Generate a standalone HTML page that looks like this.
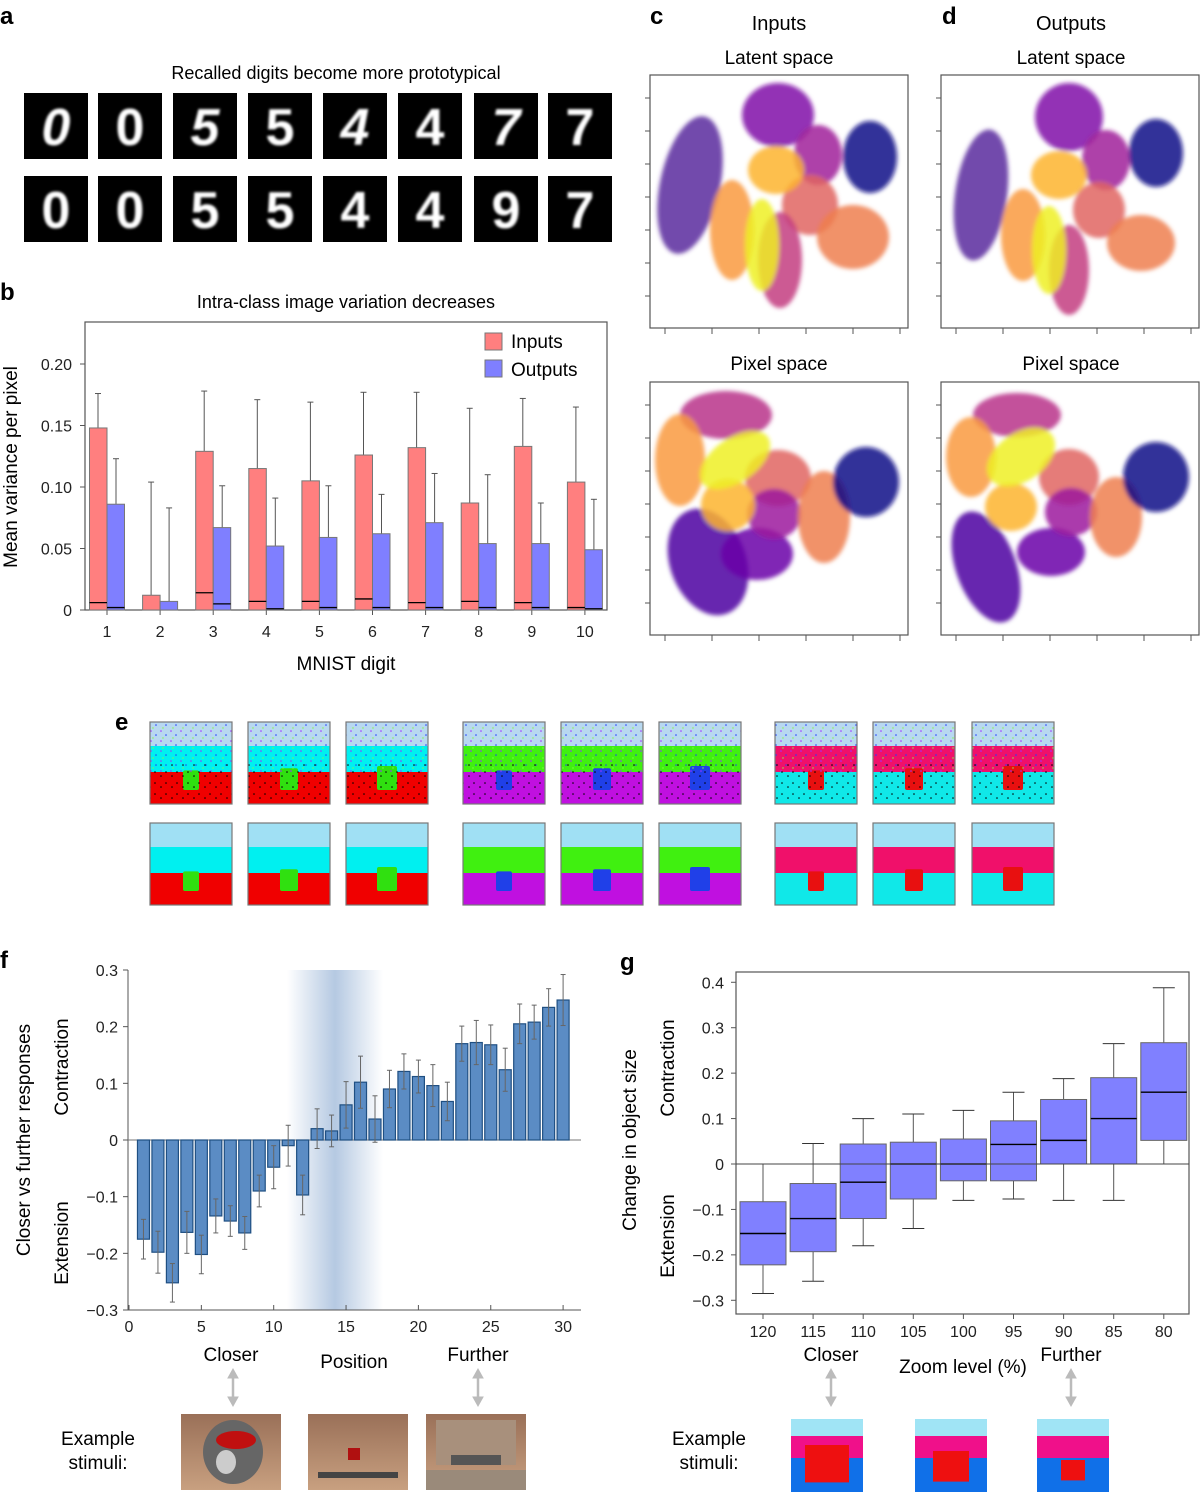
<!DOCTYPE html>
<html><head><meta charset="utf-8">
<style>
html,body{margin:0;padding:0;background:#fff;}
svg{display:block;font-family:"Liberation Sans",sans-serif;}
</style></head>
<body>
<svg id="fig" width="1200" height="1492" viewBox="0 0 1200 1492" xmlns="http://www.w3.org/2000/svg">
<defs>
<filter id="blur1" x="-10%" y="-10%" width="120%" height="120%"><feGaussianBlur stdDeviation="1.2"/></filter>
<filter id="blur3" x="-20%" y="-20%" width="140%" height="140%"><feGaussianBlur stdDeviation="2"/></filter>
<pattern id="noise" width="11" height="11" patternUnits="userSpaceOnUse">
<circle cx="1" cy="2" r="0.8" fill="#000"/><circle cx="7" cy="6" r="0.8" fill="#000"/>
</pattern>
<pattern id="noise2" width="10" height="10" patternUnits="userSpaceOnUse">
<circle cx="1" cy="1" r="0.8" fill="#a030ff"/><circle cx="6" cy="5" r="0.8" fill="#2040ff"/><circle cx="3" cy="8" r="0.7" fill="#80ff40"/>
</pattern>
<linearGradient id="band" x1="0" x2="1" y1="0" y2="0">
<stop offset="0" stop-color="#b5c9e2" stop-opacity="0"/>
<stop offset="0.5" stop-color="#b5c9e2" stop-opacity="1"/>
<stop offset="1" stop-color="#b5c9e2" stop-opacity="0"/>
</linearGradient>
<linearGradient id="brick" x1="0" x2="0" y1="0" y2="1">
<stop offset="0" stop-color="#9a7058"/><stop offset="1" stop-color="#c8a080"/>
</linearGradient>
</defs>
<g font-weight="bold" font-size="24" fill="#000">
<text x="0" y="24">a</text>
<text x="0" y="300">b</text>
<text x="650" y="24">c</text>
<text x="942" y="24">d</text>
<text x="115" y="730">e</text>
<text x="0" y="968">f</text>
<text x="620" y="970">g</text>
</g>
<text x="336" y="79" font-size="18" text-anchor="middle">Recalled digits become more prototypical</text>
<g id="mnist"></g>
<g id="chartB"></g>
<g id="scatters"></g>
<g id="panelE"></g>
<g id="chartF"></g>
<g id="chartG"></g>
<g id="stimuli"></g>
</svg>
<script>
const NS="http://www.w3.org/2000/svg";
function mk(parent,tag,attrs,txt){const e=document.createElementNS(NS,tag);for(const k in attrs)e.setAttribute(k,attrs[k]);if(txt!==undefined)e.textContent=txt;parent.appendChild(e);return e;}

// ---------- Panel b data ----------
const bDigits=["1","2","3","4","5","6","7","8","9","10"];
const bInputs=[0.148,0.012,0.129,0.115,0.105,0.126,0.132,0.087,0.133,0.104];
const bInputsErr=[0.176,0.104,0.178,0.171,0.169,0.177,0.177,0.164,0.172,0.165];
const bInputsInner=[0.006,0.0,0.014,0.007,0.007,0.009,0.006,0.007,0.006,0.002];
const bOutputs=[0.086,0.007,0.067,0.052,0.059,0.062,0.071,0.054,0.054,0.049];
const bOutputsErr=[0.123,0.083,0.101,0.091,0.101,0.094,0.111,0.110,0.087,0.090];
const bOutputsInner=[0.002,0.0,0.005,0.001,0.002,0.002,0.002,0.002,0.002,0.001];
const bTicks=[0,0.05,0.10,0.15,0.20];
const bTickLabels=["0","0.05","0.10","0.15","0.20"];

// ---------- Panel f data ----------
const fPositions=[1,2,3,4,5,6,7,8,9,10,11,12,13,14,15,16,17,18,19,20,21,22,23,24,25,26,27,28,29,30];
const fValues=[-0.175,-0.198,-0.252,-0.163,-0.202,-0.134,-0.143,-0.164,-0.090,-0.048,-0.010,-0.097,0.020,0.016,0.062,0.102,0.037,0.090,0.121,0.112,0.096,0.068,0.170,0.172,0.168,0.124,0.205,0.208,0.234,0.247];
const fErrors=[0.035,0.037,0.034,0.037,0.034,0.030,0.027,0.029,0.028,0.038,0.036,0.035,0.035,0.028,0.041,0.046,0.041,0.033,0.031,0.029,0.037,0.034,0.031,0.039,0.035,0.038,0.035,0.030,0.033,0.045];
const fYTicks=[-0.3,-0.2,-0.1,0,0.1,0.2,0.3];
const fYLabels=["\u22120.3","\u22120.2","\u22120.1","0","0.1","0.2","0.3"];
const fXTicks=[0,5,10,15,20,25,30];

// ---------- Panel g data ----------
const gZoom=["120","115","110","105","100","95","90","85","80"];
const gWhiskLow=[-0.285,-0.258,-0.180,-0.142,-0.080,-0.077,-0.080,-0.080,0.000];
const gQ1=[-0.222,-0.193,-0.120,-0.077,-0.037,-0.037,0.000,0.000,0.052];
const gMedian=[-0.153,-0.120,-0.040,0.000,0.000,0.043,0.052,0.100,0.158];
const gQ3=[-0.083,-0.043,0.044,0.048,0.055,0.095,0.142,0.190,0.267];
const gWhiskHigh=[0.000,0.045,0.100,0.110,0.118,0.158,0.188,0.265,0.388];
const gYTicks=[-0.3,-0.2,-0.1,0,0.1,0.2,0.3,0.4];
const gYLabels=["\u22120.3","\u22120.2","\u22120.1","0","0.1","0.2","0.3","0.4"];

// ---------- Panel a ----------
const mn=document.getElementById('mnist');
const colX=[24,98,173,248,323,398,474,548];
const row1=["0","0","5","5","4","4","7","7"];
const row2=["0","0","5","5","4","4","9","7"];
[[93,row1,0],[176,row2,1]].forEach(([y,digits,r])=>{
  colX.forEach((x,i)=>{
    const g=mk(mn,'g',{});
    
    
    mk(g,'rect',{x:x,y:y,width:64,height:66,fill:'#000'});
    mk(g,'text',{x:x+32,y:y+52,'font-size':52,'font-weight':'bold','text-anchor':'middle',fill:'#fff',filter:'url(#blur1)','font-style':(r===0&&i%2===0)?'italic':'normal'},digits[i]);
  });
});

// ---------- Panel b ----------
(function(){
  const g=document.getElementById('chartB');
  const X0=85,X1=607,Y0=322,Y1=610;
  const y=v=>610-v*1230;
  const x=i=>107+i*53.1;
  mk(g,'text',{x:346,y:308,'font-size':18,'text-anchor':'middle'},"Intra-class image variation decreases");
  const frame=mk(g,'rect',{x:X0,y:Y0,width:X1-X0,height:Y1-Y0,fill:'none',stroke:'#555','stroke-width':1.2});
  
  
  bTicks.forEach((t,i)=>{
    mk(g,'line',{x1:X0-5,x2:X0,y1:y(t),y2:y(t),stroke:'#555'});
    const tl=mk(g,'text',{x:72,y:y(t)+6,'font-size':16,'text-anchor':'end',fill:'#222'},bTickLabels[i]);
    
    
  });
  bDigits.forEach((d,i)=>{
    const cx=x(i);
    mk(g,'line',{x1:cx,x2:cx,y1:Y1,y2:Y1+5,stroke:'#555'});
    const tl=mk(g,'text',{x:cx,y:637,'font-size':16,'text-anchor':'middle',fill:'#222'},d);
    
    
    mk(g,'line',{x1:cx-9,x2:cx-9,y1:y(bInputs[i]),y2:y(bInputsErr[i]),stroke:'#555'});
    mk(g,'line',{x1:cx-12,x2:cx-6,y1:y(bInputsErr[i]),y2:y(bInputsErr[i]),stroke:'#555'});
    mk(g,'line',{x1:cx+9,x2:cx+9,y1:y(bOutputs[i]),y2:y(bOutputsErr[i]),stroke:'#555'});
    mk(g,'line',{x1:cx+6,x2:cx+12,y1:y(bOutputsErr[i]),y2:y(bOutputsErr[i]),stroke:'#555'});
    const r=mk(g,'rect',{x:cx-17.5,y:y(bInputs[i]),width:17.5,height:Y1-y(bInputs[i]),fill:'#ff7f7f',stroke:'#777','stroke-width':1});
    
    
    const b=mk(g,'rect',{x:cx,y:y(bOutputs[i]),width:17.5,height:Y1-y(bOutputs[i]),fill:'#7f7fff',stroke:'#777','stroke-width':1});
    
    
    if(bInputsInner[i]>0)mk(g,'line',{x1:cx-17.5,x2:cx,y1:y(bInputsInner[i]),y2:y(bInputsInner[i]),stroke:'#000','stroke-width':1.3});
    if(bOutputsInner[i]>0)mk(g,'line',{x1:cx,x2:cx+17.5,y1:y(bOutputsInner[i]),y2:y(bOutputsInner[i]),stroke:'#000','stroke-width':1.3});
  });
  const yl=mk(g,'text',{x:0,y:0,'font-size':19,'text-anchor':'middle',transform:'translate(17,467) rotate(-90)'},"Mean variance per pixel");
  
  
  const xl=mk(g,'text',{x:346,y:670,'font-size':19,'text-anchor':'middle'},"MNIST digit");
  
  
  const l1=mk(g,'rect',{x:485,y:333,width:17,height:17,fill:'#ff7f7f',stroke:'#777'});
  
  
  mk(g,'text',{x:511,y:348,'font-size':19},"Inputs");
  const l2=mk(g,'rect',{x:485,y:360,width:17,height:17,fill:'#7f7fff',stroke:'#777'});
  
  
  mk(g,'text',{x:511,y:376,'font-size':19},"Outputs");
})();

// ---------- Scatter panels ----------
(function(){
  const g=document.getElementById('scatters');
  mk(g,'text',{x:779,y:30,'font-size':20,'text-anchor':'middle'},"Inputs");
  mk(g,'text',{x:1071,y:30,'font-size':20,'text-anchor':'middle'},"Outputs");
  mk(g,'text',{x:779,y:64,'font-size':19,'text-anchor':'middle'},"Latent space");
  mk(g,'text',{x:1071,y:64,'font-size':19,'text-anchor':'middle'},"Latent space");
  mk(g,'text',{x:779,y:370,'font-size':19,'text-anchor':'middle'},"Pixel space");
  mk(g,'text',{x:1071,y:370,'font-size':19,'text-anchor':'middle'},"Pixel space");
  const latent=[
    [40,110,30,70,'#5b2a9e',12],[128,40,36,32,'#8010a8',0],[168,80,24,30,'#a0229a',0],
    [220,82,27,36,'#0d0887',0],[160,130,28,30,'#e16462',0],[203,162,36,32,'#ef7f4f',0],
    [82,155,22,50,'#f99a3e',0],[130,185,22,48,'#c33d80',0],[126,95,28,24,'#fdb42f',0],[112,170,17,46,'#eef025',0]];
  const latentD=[
    [40,120,26,66,'#5b2a9e',8],[128,42,34,34,'#8010a8',0],[165,85,24,30,'#a0229a',0],
    [215,78,27,34,'#0d0887',0],[158,135,26,28,'#e16462',0],[200,168,34,28,'#ef7f4f',0],
    [82,160,22,46,'#f99a3e',0],[128,195,20,45,'#c33d80',0],[118,100,28,24,'#fdb42f',0],[108,175,17,44,'#eef025',0]];
  const pixel=[
    [76,33,46,24,'#b83289',0],[30,78,25,46,'#f99a3e',0],[58,180,38,55,'#4c02a1',-20],
    [107,172,36,26,'#6a00a8',0],[128,96,33,28,'#e16462',0],[124,132,27,25,'#9c179e',0],
    [174,135,26,46,'#ef7f4f',0],[216,100,33,35,'#0d0887',0],[78,123,27,26,'#fdb42f',0],[85,78,40,22,'#eef025',-35]];
  const pixelD=[
    [76,33,44,22,'#b83289',0],[30,75,25,40,'#f99a3e',0],[45,185,30,58,'#4c02a1',-20],
    [110,170,34,24,'#6a00a8',0],[128,95,30,28,'#e16462',0],[130,130,26,24,'#9c179e',0],
    [175,135,26,40,'#ef7f4f',0],[215,95,33,35,'#0d0887',0],[70,125,26,24,'#fdb42f',0],[80,75,38,24,'#eef025',-35]];
  const panels=[[650,75,latent,'scatter-inputs-latent'],[941,75,latentD,'scatter-outputs-latent'],[650,382,pixel,'scatter-inputs-pixel'],[941,382,pixelD,'scatter-outputs-pixel']];
  panels.forEach(([px,py,cl,name])=>{
    const pg=mk(g,'g',{});
    
    
    mk(pg,'rect',{x:px,y:py,width:258,height:253,fill:'#fff',stroke:'#555','stroke-width':1.2});
    const cg=mk(pg,'g',{filter:'url(#blur3)'});
    cl.forEach(c=>{
      const e=mk(cg,'ellipse',{cx:px+c[0],cy:py+c[1],rx:c[2],ry:c[3],fill:c[4],'fill-opacity':0.85,transform:`rotate(${c[5]} ${px+c[0]} ${py+c[1]})`});
      
      
    });
    for(let k=0;k<7;k++){const ty=py+23+k*33;mk(pg,'line',{x1:px-5,x2:px,y1:ty,y2:ty,stroke:'#555'});}
    for(let k=0;k<6;k++){const tx=px+15+k*47;mk(pg,'line',{x1:tx,x2:tx,y1:py+253,y2:py+259,stroke:'#555'});}
  });
})();

// ---------- Panel e ----------
(function(){
  const g=document.getElementById('panelE');
  const xs=[[150,248,346],[463,561,659],[775,873,972]];
  const schemes=[['#00f0f0','#f00000','#30e010'],['#40f010','#c010e0','#2040e8'],['#f0106a','#10e8e8','#e81010']];
  const cubeW=[[16,18,20],[16,18,20],[16,18,20]];
  [[722,true],[823,false]].forEach(([y,noisy])=>{
    xs.forEach((grp,gi)=>{
      grp.forEach((x,k)=>{
        const ig=mk(g,'g',{});
        
        
        const s=schemes[gi];
        mk(ig,'rect',{x:x,y:y,width:82,height:82,fill:noisy?'#b8d8f0':'#a0e0f4'});
        mk(ig,'rect',{x:x,y:y+24,width:82,height:26,fill:s[0]});
        mk(ig,'rect',{x:x,y:y+50,width:82,height:32,fill:s[1]});
        const w=cubeW[gi][k];
        mk(ig,'rect',{x:x+41-w/2,y:y+66-w*1.1,width:w,height:w*1.1+2,rx:2,fill:s[2]});
        if(noisy){
          mk(ig,'rect',{x:x,y:y,width:82,height:50,fill:'url(#noise2)'});
          mk(ig,'rect',{x:x,y:y+40,width:82,height:42,fill:'url(#noise)'});
        }
        mk(ig,'rect',{x:x,y:y,width:82,height:82,fill:'none',stroke:'#777','stroke-width':1.2});
      });
    });
  });
})();

// ---------- Panel f ----------
(function(){
  const g=document.getElementById('chartF');
  const y=v=>1140-v*566.7;
  const x=p=>129+p*14.47;
  const band=mk(g,'rect',{x:287,y:970,width:96,height:340,fill:'url(#band)'});
  
  
  mk(g,'line',{x1:128,x2:128,y1:970,y2:1310,stroke:'#555'});
  mk(g,'line',{x1:128,x2:581,y1:1310,y2:1310,stroke:'#555'});
  mk(g,'line',{x1:128,x2:581,y1:y(0),y2:y(0),stroke:'#777'});
  fYTicks.forEach((t,i)=>{
    mk(g,'line',{x1:123,x2:128,y1:y(t),y2:y(t),stroke:'#555'});
    const tl=mk(g,'text',{x:118,y:y(t)+6,'font-size':16,'text-anchor':'end',fill:'#222'},fYLabels[i]);
    
    
  });
  fXTicks.forEach(t=>{
    mk(g,'line',{x1:x(t),x2:x(t),y1:1310,y2:1305,stroke:'#555'});
    const tl=mk(g,'text',{x:x(t),y:1332,'font-size':16,'text-anchor':'middle',fill:'#222'},String(t));
    
    
  });
  fPositions.forEach((p,i)=>{
    const v=fValues[i],cx=x(p);
    const top=Math.min(y(v),y(0)),h=Math.abs(y(v)-y(0));
    const r=mk(g,'rect',{x:cx-6,y:top,width:12,height:h,fill:'#5b8cc4',stroke:'#1f4f82','stroke-width':1.2});
    
    
    const e=fErrors[i];
    mk(g,'line',{x1:cx,x2:cx,y1:y(v-e),y2:y(v+e),stroke:'#666'});
    mk(g,'line',{x1:cx-2.5,x2:cx+2.5,y1:y(v-e),y2:y(v-e),stroke:'#666'});
    mk(g,'line',{x1:cx-2.5,x2:cx+2.5,y1:y(v+e),y2:y(v+e),stroke:'#666'});
  });
  const yt=mk(g,'text',{x:0,y:0,'font-size':19,'text-anchor':'middle',transform:'translate(30,1140) rotate(-90)'},"Closer vs further responses");
  
  
  mk(g,'text',{x:0,y:0,'font-size':19,'text-anchor':'middle',transform:'translate(68,1067) rotate(-90)'},"Contraction");
  mk(g,'text',{x:0,y:0,'font-size':19,'text-anchor':'middle',transform:'translate(68,1243) rotate(-90)'},"Extension");
  mk(g,'text',{x:231,y:1361,'font-size':19,'text-anchor':'middle'},"Closer");
  const xt=mk(g,'text',{x:354,y:1368,'font-size':19,'text-anchor':'middle'},"Position");
  
  
  mk(g,'text',{x:478,y:1361,'font-size':19,'text-anchor':'middle'},"Further");
})();

// ---------- Panel g ----------
(function(){
  const g=document.getElementById('chartG');
  const y=v=>1164-v*454.3;
  const x=i=>763+i*50.1;
  const FX=736;
  const fr=mk(g,'rect',{x:FX,y:972,width:1189-FX,height:342,fill:'none',stroke:'#555','stroke-width':1.2});
  
  
  gYTicks.forEach((t,i)=>{
    mk(g,'line',{x1:FX-5,x2:FX,y1:y(t),y2:y(t),stroke:'#555'});
    const tl=mk(g,'text',{x:724,y:y(t)+6,'font-size':16,'text-anchor':'end',fill:'#222'},gYLabels[i]);
    
    
  });
  gZoom.forEach((z,i)=>{
    const cx=x(i);
    mk(g,'line',{x1:cx,x2:cx,y1:1314,y2:1319,stroke:'#555'});
    const tl=mk(g,'text',{x:cx,y:1337,'font-size':16,'text-anchor':'middle',fill:'#222'},z);
    
    
    mk(g,'line',{x1:cx,x2:cx,y1:y(gWhiskLow[i]),y2:y(gWhiskHigh[i]),stroke:'#555'});
    mk(g,'line',{x1:cx-11,x2:cx+11,y1:y(gWhiskLow[i]),y2:y(gWhiskLow[i]),stroke:'#333'});
    mk(g,'line',{x1:cx-11,x2:cx+11,y1:y(gWhiskHigh[i]),y2:y(gWhiskHigh[i]),stroke:'#333'});
    const b=mk(g,'rect',{x:cx-23,y:y(gQ3[i]),width:46,height:y(gQ1[i])-y(gQ3[i]),fill:'#8080ff',stroke:'#666','stroke-width':1});
    
    
    mk(g,'line',{x1:cx-23,x2:cx+23,y1:y(gMedian[i]),y2:y(gMedian[i]),stroke:'#000','stroke-width':1.4});
  });
  mk(g,'line',{x1:FX,x2:1189,y1:y(0),y2:y(0),stroke:'#444'});
  const yt=mk(g,'text',{x:0,y:0,'font-size':19,'text-anchor':'middle',transform:'translate(636,1140) rotate(-90)'},"Change in object size");
  
  
  mk(g,'text',{x:0,y:0,'font-size':19,'text-anchor':'middle',transform:'translate(674,1068) rotate(-90)'},"Contraction");
  mk(g,'text',{x:0,y:0,'font-size':19,'text-anchor':'middle',transform:'translate(674,1236) rotate(-90)'},"Extension");
  mk(g,'text',{x:831,y:1361,'font-size':19,'text-anchor':'middle'},"Closer");
  const xt=mk(g,'text',{x:963,y:1373,'font-size':19,'text-anchor':'middle'},"Zoom level (%)");
  
  
  mk(g,'text',{x:1071,y:1361,'font-size':19,'text-anchor':'middle'},"Further");
})();

// ---------- Stimuli ----------
(function(){
  const g=document.getElementById('stimuli');
  [233,478,831,1071].forEach(ax=>{
    const a=mk(g,'g',{fill:'#bbb',stroke:'#bbb'});
    
    
    mk(a,'line',{x1:ax,x2:ax,y1:1374,y2:1400,'stroke-width':2.5});
    mk(a,'polygon',{points:`${ax-5},${1378} ${ax+5},${1378} ${ax},${1369}`});
    mk(a,'polygon',{points:`${ax-5},${1397} ${ax+5},${1397} ${ax},${1406}`});
  });
  [[98,1445],[98,1469]].forEach((p,i)=>mk(g,'text',{x:p[0],y:p[1],'font-size':19,'text-anchor':'middle'},i?"stimuli:":"Example"));
  [[709,1445],[709,1469]].forEach((p,i)=>mk(g,'text',{x:p[0],y:p[1],'font-size':19,'text-anchor':'middle'},i?"stimuli:":"Example"));
  [[181,0],[308,1],[426,2]].forEach(([x,k])=>{
    const s=mk(g,'g',{});
    
    
    mk(s,'rect',{x:x,y:1414,width:100,height:76,fill:'url(#brick)'});
    if(k===0){mk(s,'ellipse',{cx:x+52,cy:1452,rx:30,ry:32,fill:'#666'});mk(s,'ellipse',{cx:x+55,cy:1440,rx:20,ry:9,fill:'#c01010'});mk(s,'ellipse',{cx:x+45,cy:1462,rx:10,ry:12,fill:'#ccc'});}
    if(k===1){mk(s,'rect',{x:x+40,y:1448,width:12,height:12,fill:'#b01010'});mk(s,'rect',{x:x+10,y:1472,width:80,height:6,fill:'#444'});}
    if(k===2){mk(s,'rect',{x:x+10,y:1420,width:80,height:45,fill:'#a8907c'});mk(s,'rect',{x:x+25,y:1455,width:50,height:10,fill:'#555'});mk(s,'rect',{x:x,y:1470,width:100,height:20,fill:'#9a8a7a'});}
  });
  [[791,44],[915,36],[1037,24]].forEach(([x,w])=>{
    const s=mk(g,'g',{});
    
    
    mk(s,'rect',{x:x,y:1419,width:72,height:73,fill:'#a0e4f5'});
    mk(s,'rect',{x:x,y:1436,width:72,height:22,fill:'#f0108a'});
    mk(s,'rect',{x:x,y:1458,width:72,height:34,fill:'#1070e8'});
    mk(s,'rect',{x:x+36-w/2,y:1478-w*0.75,width:w,height:w*0.85,fill:'#ee1010'});
  });
})();
</script>
</body></html>
